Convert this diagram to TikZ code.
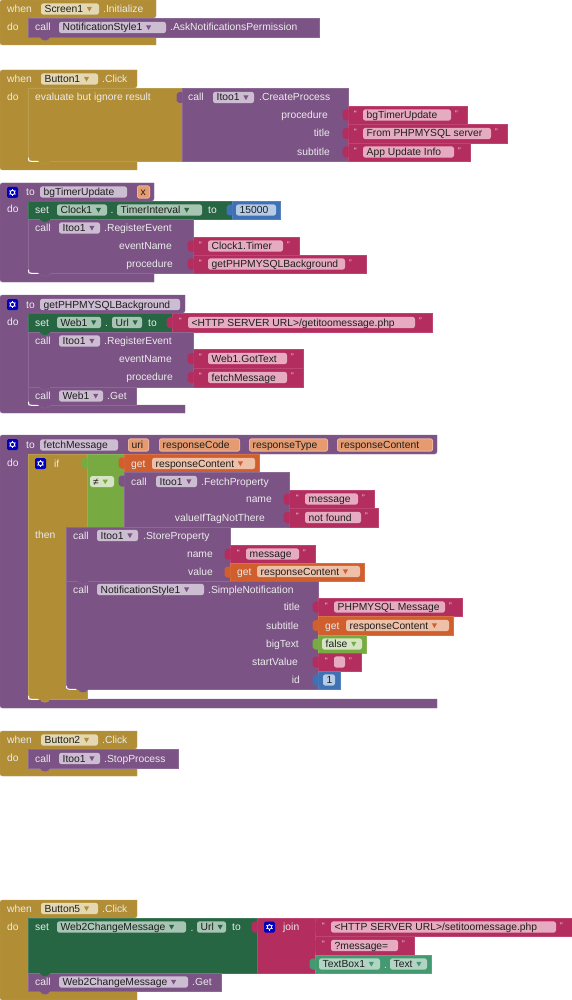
\documentclass[tikz,border=0pt]{standalone}
\usepackage{fontspec}
\setmainfont{Liberation Sans}
\definecolor{cgold}{HTML}{B18E35}
\definecolor{cpur}{HTML}{7C5385}
\definecolor{cdg}{HTML}{266643}
\definecolor{cpink}{HTML}{B32D5E}
\definecolor{cblue}{HTML}{3F71B5}
\definecolor{corg}{HTML}{D05F2D}
\definecolor{clg}{HTML}{77AB41}
\definecolor{ctg}{HTML}{439970}
\definecolor{carg}{HTML}{E59A6F}
\definecolor{fgold}{HTML}{E3D7B4}
\definecolor{fpur}{HTML}{CDBDD2}
\definecolor{fdg}{HTML}{A8C4B3}
\definecolor{fpink}{HTML}{E6ABC0}
\definecolor{fblue}{HTML}{B6CBE6}
\definecolor{forg}{HTML}{EEC0A8}
\definecolor{flg}{HTML}{D5E4C2}
\definecolor{ftg}{HTML}{B2D4C3}
\definecolor{ctxt}{HTML}{1E1E1E}
\newcounter{nn}
\tikzset{
  lbl/.style={inner sep=0pt,text height=8pt,text depth=1pt,font=\fontsize{10.3}{12}\selectfont,text=white!92!black},
  ftxt/.style={inner sep=0pt,text height=8pt,text depth=1pt,font=\fontsize{10.3}{12}\selectfont,text=ctxt,anchor=west},
  qt/.style={inner sep=0pt,font=\fontsize{8}{9}\selectfont,text=white!92!black},
  edge/.style={draw=#1!88!white,fill=#1,line width=.4pt}
}
% block
\newcommand\bk[5]{\path[edge=#1] (#2,#3) rectangle (#4,#5);}
% hat-shaped event or procedure block
\newcommand\hatblk[6]{\path[edge=#1,rounded corners=2.5pt] (#2,#4) [sharp corners] -- (#2,#3) [rounded corners=2.5pt] -- (0,#3) -- (0,#6) [sharp corners] -- (#2,#6) -- (#2,#5) [rounded corners=2.5pt] -- (28,#5) -- (28,#4) -- cycle;}
% bump under a statement block
\newcommand\bump[3]{\path[edge=#1] (#2+10,#3) .. controls (#2+11,#3+3) and (#2+13,#3+3.2) .. (#2+15,#3+3.2) .. controls (#2+17,#3+3.2) and (#2+19,#3+3) .. (#2+20,#3);
  \fill[#1] (#2+10.4,#3-.6) rectangle (#2+19.6,#3+.6);}
% left tab of a value block
\newcommand\tabb[3]{\fill[#1] (#2+.5,{#3-5.5}) -- (#2-2.5,{#3-5.5}) .. controls (#2-3.5,{#3-4.5}) and (#2-5.5,{#3-4.5}) .. (#2-5.5,{#3-3}) -- (#2-5.5,{#3+3}) .. controls (#2-5.5,{#3+4.5}) and (#2-3.5,{#3+4.5}) .. (#2-2.5,{#3+5.5}) -- (#2+.5,{#3+5.5}) -- cycle;}
% white inner corner
\newcommand\wc[2]{\draw[white,line width=1pt,line cap=round] (#1+.5,#2-3) .. controls (#1+.5,#2) .. (#1+3.5,#2+.3) -- (#1+10,#2+.3);}
% left label, right label
\newcommand\lb[3]{\stepcounter{nn}\node[lbl,anchor=west] (t\thenn) at (#1,#2) {#3};}
\newcommand\rb[3]{\stepcounter{nn}\node[lbl,anchor=east] (t\thenn) at (#1,#2) {#3};}
% field without arrow: fill, x1, x2, cy, text
\newcommand\fd[5]{\fill[#1,rounded corners=2.5pt] (#2,{#4-5.7}) rectangle (#3,{#4+5.7});
  \stepcounter{nn}\node[ftxt] (t\thenn) at (#2+3.5,{#4}) {#5};}
% field with arrow: fill, arrow colour, x1, x2, cy, text
\newcommand\fa[6]{\fill[#1,rounded corners=2.5pt] (#3,{#5-5.7}) rectangle (#4,{#5+5.7});
  \stepcounter{nn}\node[ftxt] (t\thenn) at (#3+3.5,#5) {#6};
  \fill[#2] ([shift={(3.5pt,2.2pt)}]t\thenn.east) -- ([shift={(8.7pt,2.2pt)}]t\thenn.east) -- ([shift={(6.1pt,-2.6pt)}]t\thenn.east) -- cycle;}
% string block: x1,x2,y1,y2, field x1, field x2, text
\newcommand\strb[7]{\bk{cpink}{#1}{#3}{#2}{#4}
  \fd{fpink}{#5}{#6}{(#3+#4)/2}{#7}
  \stepcounter{nn}\node[qt] (t\thenn) at (#5-7.5,{(#3+#4)/2-1.5}) {“};
  \stepcounter{nn}\node[qt] (t\thenn) at (#6+5.5,{(#3+#4)/2-1.5}) {”};
  \tabb{cpink}{#1}{(#3+#4)/2}}
% procedure icon
\newcommand\icon[2]{\fill[blue!75!black,rounded corners=1.5pt] (#1,#2) rectangle (#1+11,#2+11);
  \draw[white,line width=.9pt] (#1+5.5,#2+5.5) circle (2.2pt);
  \foreach \a in {30,90,150,210,270,330} {\draw[white,line width=.9pt] (#1+5.5,#2+5.5) ++(\a:2.2pt) -- ++(\a:1.3pt);}}
% argument pill
\newcommand\argp[4]{\fill[carg!70!white,rounded corners=2.5pt] (#1,#3-6.7) rectangle (#2,#3+6.7);
  \fill[carg,rounded corners=2pt] (#1+.8,#3-5.7) rectangle (#2-.8,#3+5.7);
  \stepcounter{nn}\node[ftxt] (t\thenn) at (#1+3.5,#3) {#4};}
\begin{document}
\begin{tikzpicture}[x=1pt,y=-1pt]
\useasboundingbox (0,0) rectangle (572,1000);
\fill[white] (0,0) rectangle (572,1000);

% ---- Screen1.Initialize
\hatblk{cgold}{156}{0}{18}{37}{45}
\lb{7}{9}{when}\lb{7}{27}{do}
\fa{fgold}{cgold}{41}{99}{9}{Screen1}
\lb{103}{9}{.Initialize}
\bk{cpur}{28}{18}{319}{37}
\bump{cpur}{30}{37}
\lb{35}{27.5}{call}
\fa{fpur}{cpur}{59}{166}{27.5}{NotificationStyle1}
\lb{170}{27.5}{.AskNotificationsPermission}

% ---- Button1.Click
\hatblk{cgold}{137}{70}{88}{161}{170}
\lb{7}{79}{when}\lb{7}{97}{do}
\fa{fgold}{cgold}{41}{98}{79}{Button1}
\lb{102}{79}{.Click}
\bk{cgold}{28}{88}{182}{161}
\bump{cgold}{30}{161}
\wc{28}{161}
\lb{35}{97.5}{evaluate but ignore result}
\bk{cpur}{182}{88}{348}{161}
\tabb{cpur}{182}{97.5}
\lb{188}{97.5}{call}
\fa{fpur}{cpur}{213}{254}{97.5}{Itoo1}
\lb{259}{97.5}{.CreateProcess}
\rb{328}{115}{procedure}\rb{330}{133.5}{title}\rb{330}{152}{subtitle}
\strb{348}{467}{106}{124}{363}{451}{bgTimerUpdate}
\strb{348}{507}{124}{143}{363}{491}{From PHPMYSQL server}
\strb{348}{470}{143}{161}{363}{454}{App Update Info}

% ---- bgTimerUpdate
\hatblk{cpur}{154}{183}{201}{273}{282}
\icon{7}{187}
\lb{26}{192}{to}\lb{7}{209.5}{do}
\fd{fpur}{40}{127}{192}{bgTimerUpdate}
\argp{137}{150}{192}{x}
\bk{cdg}{28}{201}{232}{219}
\lb{35}{210}{set}
\fa{fdg}{cdg}{57}{107}{210}{Clock1}
\lb{110.5}{210}{.}
\fa{fdg}{cdg}{117}{202}{210}{TimerInterval}
\lb{208}{210}{to}
\bk{cblue}{232}{201}{280}{219}
\tabb{cblue}{232}{210}
\fd{fblue}{236}{276}{210}{15000}
\bk{cpur}{28}{219}{193}{273}
\bump{cdg}{30}{219}
\bump{cpur}{30}{273}
\wc{28}{273}
\lb{35}{228}{call}
\fa{fpur}{cpur}{59}{100}{228}{Itoo1}
\lb{104}{228}{.RegisterEvent}
\rb{172}{246}{eventName}\rb{173}{264}{procedure}
\strb{193}{299}{237}{255}{208}{283}{Clock1.Timer}
\strb{193}{366}{255}{273}{208}{345}{getPHPMYSQLBackground}

% ---- getPHPMYSQLBackground
\hatblk{cpur}{185}{295}{313}{405}{413}
\icon{7}{299}
\lb{26}{304.5}{to}\lb{7}{322}{do}
\fd{fpur}{40}{180}{304.5}{getPHPMYSQLBackground}
\bk{cdg}{28}{313}{172}{332}
\lb{35}{322.5}{set}
\fa{fdg}{cdg}{57}{101}{322.5}{Web1}
\lb{105}{322.5}{.}
\fa{fdg}{cdg}{112}{142}{322.5}{Url}
\lb{148}{322.5}{to}
\strb{172}{432}{313}{332}{188}{415}{<HTTP SERVER URL>/getitoomessage.php}
\bk{cpur}{28}{332}{193}{387}
\bump{cdg}{30}{332}
\lb{35}{341}{call}
\fa{fpur}{cpur}{59}{100}{341}{Itoo1}
\lb{104}{341}{.RegisterEvent}
\rb{172}{358.5}{eventName}\rb{173}{377}{procedure}
\strb{193}{303}{349}{368}{208}{287}{Web1.GotText}
\strb{193}{303}{368}{387}{208}{287}{fetchMessage}
\bk{cpur}{28}{387}{136}{405}
\bump{cpur}{30}{387}
\bump{cpur}{30}{405}
\wc{28}{405}
\lb{35}{396}{call}
\fa{fpur}{cpur}{59}{103}{396}{Web1}
\lb{107}{396}{.Get}

% ---- fetchMessage
\hatblk{cpur}{437}{435}{454}{699}{708}
\icon{7}{439}
\lb{26}{445}{to}\lb{7}{463}{do}
\fd{fpur}{40}{118}{445}{fetchMessage}
\argp{128}{149}{445}{uri}
\argp{159}{240}{445}{responseCode}
\argp{249}{328}{445}{responseType}
\argp{337}{433}{445}{responseContent}
% if / then
\bk{cgold}{28}{454}{87}{699}
\bump{cgold}{30}{699}
\wc{28}{699}
\icon{35}{458}
\lb{54}{463.5}{if}
\lb{35}{535}{then}
% not equal
\bk{clg}{87}{454}{124}{527}
\tabb{clg}{87}{463}
\fill[flg,rounded corners=2.5pt] (90,476) rectangle (114,487);
\stepcounter{nn}\node[ftxt] (t\thenn) at (93,481.5) {≠};
\fill[clg] (102.5,479.5) -- (108,479.5) -- (105.2,484) -- cycle;
% get responseContent
\bk{corg}{124}{454}{259}{472}
\tabb{corg}{124}{463}
\lb{131}{463.5}{get}
\fa{forg}{corg}{152}{255}{463.5}{responseContent}
% FetchProperty
\bk{cpur}{124}{472}{289}{527}
\tabb{cpur}{124}{481}
\lb{131}{481.5}{call}
\fa{fpur}{cpur}{156}{197}{481.5}{Itoo1}
\lb{201}{481.5}{.FetchProperty}
\rb{272}{499}{name}\rb{265}{517.5}{valueIfTagNotThere}
\strb{289}{374}{490}{508}{305}{358}{message}
\strb{289}{378}{508}{527}{305}{361}{not found}
% StoreProperty
\bk{cpur}{66}{527}{230}{581}
\lb{73}{535.5}{call}
\fa{fpur}{cpur}{97}{138}{535.5}{Itoo1}
\lb{143}{535.5}{.StoreProperty}
\rb{213}{553.5}{name}\rb{213}{571.5}{value}
\strb{230}{315}{545}{563}{246}{299}{message}
\bk{corg}{230}{563}{364}{581}
\tabb{corg}{230}{572}
\lb{237}{571.5}{get}
\fa{forg}{corg}{257}{360}{571.5}{responseContent}
% SimpleNotification
\bk{cpur}{66}{581}{318}{689}
\bump{cpur}{68}{581}
\bump{cpur}{68}{689}
\wc{66}{689}
\lb{73}{589.5}{call}
\fa{fpur}{cpur}{97}{204}{589.5}{NotificationStyle1}
\lb{208}{589.5}{.SimpleNotification}
\rb{300}{607}{title}\rb{299}{625.5}{subtitle}\rb{299}{643.5}{bigText}\rb{298}{662}{startValue}\rb{300}{680}{id}
\strb{318}{462}{598}{616}{334}{445}{PHPMYSQL Message}
\bk{corg}{318}{616}{453}{635}
\tabb{corg}{318}{625.5}
\lb{325}{625.5}{get}
\fa{forg}{corg}{346}{449}{625.5}{responseContent}
\bk{clg}{318}{635}{366}{653}
\tabb{clg}{318}{644}
\fa{flg}{clg}{322}{362}{644}{false}
\strb{318}{361}{653}{671}{334}{345}{}
\bk{cblue}{318}{671}{340}{689}
\tabb{cblue}{318}{680}
\fd{fblue}{323}{335}{680}{1}

% ---- Button2.Click
\hatblk{cgold}{137}{731}{749}{768}{776}
\lb{7}{740}{when}\lb{7}{758}{do}
\fa{fgold}{cgold}{41}{98}{740}{Button2}
\lb{102}{740}{.Click}
\bk{cpur}{28}{749}{178}{768}
\bump{cpur}{30}{768}
\lb{35}{758.5}{call}
\fa{fpur}{cpur}{59}{100}{758.5}{Itoo1}
\lb{104}{758.5}{.StopProcess}

% ---- Button5.Click
\hatblk{cgold}{137}{900}{918}{991}{1000}
\lb{7}{908.5}{when}\lb{7}{926.5}{do}
\fa{fgold}{cgold}{41}{98}{908.5}{Button5}
\lb{102}{908.5}{.Click}
\bk{cdg}{28}{918}{257}{973}
\lb{35}{927}{set}
\fa{fdg}{cdg}{57}{186}{927}{Web2ChangeMessage}
\lb{190.5}{927.5}{.}
\fa{fdg}{cdg}{197}{226}{927}{Url}
\lb{232}{927}{to}
\bk{cpink}{257}{918}{315}{973}
\tabb{cpink}{257}{927}
\icon{264}{921.5}
\lb{283}{927}{join}
\strb{315}{572}{918}{936}{331}{556}{<HTTP SERVER URL>/setitoomessage.php}
\strb{315}{414}{936}{955}{331}{398}{?message=}
\bk{ctg}{315}{955}{431}{973}
\tabb{ctg}{315}{964}
\fa{ftg}{ctg}{319}{380}{964}{TextBox1}
\lb{384}{964.5}{.}
\fa{ftg}{ctg}{390}{427}{964}{Text}
\bk{cpur}{28}{973}{221}{991}
\bump{cdg}{30}{973}
\bump{cpur}{30}{991}
\lb{35}{982}{call}
\fa{fpur}{cpur}{59}{188}{982}{Web2ChangeMessage}
\lb{192}{982}{.Get}
\end{tikzpicture}
\end{document}
